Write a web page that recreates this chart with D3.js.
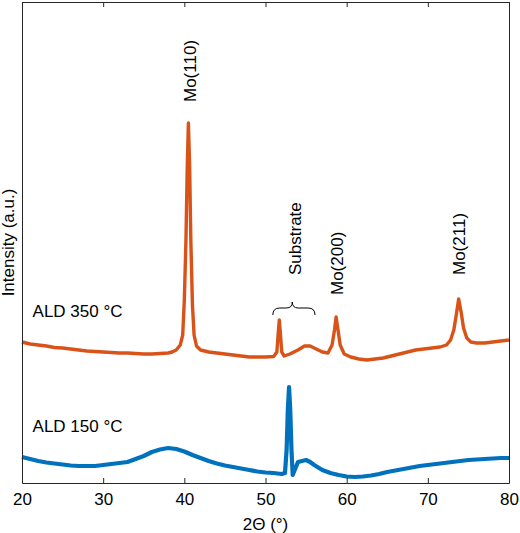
<!DOCTYPE html>
<html>
<head>
<meta charset="utf-8">
<script src="https://cdn.jsdelivr.net/npm/d3@7"></script>
<style>
  body { margin: 0; background: #fff; }
  text { font-family: "Liberation Sans", Arial, Helvetica, sans-serif; }
</style>
</head>
<body>
<div id="chart"></div>
<script>
// [2theta, intensity (a.u.)]
const ald350 = [
  [20, 141], [21, 139], [22, 138], [23, 137], [24, 135.5], [25, 135], [26, 134], [27, 133],
  [28, 132], [29, 131.5], [30, 131], [31, 130.5], [32, 130], [33, 130], [34, 129.5], [35, 129],
  [36, 129], [37, 129.5], [38, 130], [38.5, 131], [39, 133], [39.5, 138], [39.8, 148],
  [40.0, 183], [40.2, 243], [40.35, 313], [40.5, 360], [40.65, 318], [40.8, 243], [41.0, 178],
  [41.2, 148], [41.5, 137], [42, 133], [43, 131], [44, 130], [45, 129], [46, 128], [47, 127],
  [48, 126], [49, 126], [50, 126], [51, 126.5], [51.4, 131], [51.55, 148], [51.7, 163],
  [51.85, 148], [52.0, 131], [52.3, 127], [53, 129], [54, 133], [54.8, 137], [55.5, 137],
  [56, 135], [57, 131], [57.7, 130], [58.2, 138], [58.5, 153], [58.7, 166], [58.9, 155],
  [59.2, 138], [59.7, 129], [60.5, 126], [61.5, 124], [62.5, 123], [63.5, 124], [64.5, 125],
  [65.5, 127], [66.5, 129], [67.5, 131], [68.5, 133], [69.5, 134], [70.5, 135], [71.5, 136],
  [72.3, 138], [72.8, 143], [73.2, 153], [73.5, 168], [73.8, 184], [74.1, 171], [74.4, 155],
  [74.8, 145], [75.3, 141], [76, 140], [77, 140], [78, 141], [79, 142], [80, 143]
];

const ald150 = [
  [20, 26], [21, 24], [22, 22], [23, 20.5], [24, 19.5], [25, 18.5], [26, 17.5], [27, 17],
  [28, 17], [29, 17], [30, 18], [31, 19], [32, 20], [33, 21], [34, 24], [35, 27],
  [36, 31], [37, 33.5], [38, 35], [39, 34], [40, 31.5], [41, 28], [42, 25], [43, 22],
  [44, 19.5], [45, 17.5], [46, 16], [47, 14.5], [48, 13], [49, 11.5], [50, 10.5],
  [51, 10], [52, 9], [52.4, 10], [52.6, 33], [52.75, 73], [52.9, 96], [53.05, 73],
  [53.2, 33], [53.35, 8], [53.7, 15], [54.0, 21], [54.5, 22], [55.0, 23], [55.5, 21],
  [56, 18], [57, 13], [58, 10], [59, 8], [60, 6.5], [61, 6], [62, 6.5], [63, 7.5],
  [64, 9], [65, 11], [66, 12.5], [67, 14], [68, 15.5], [69, 17], [70, 18], [71, 19],
  [72, 20], [73, 21], [74, 22], [75, 23], [76, 23.5], [77, 24], [78, 24.5], [79, 25],
  [80, 25]
];

const xTicks = [20, 30, 40, 50, 60, 70, 80];

// peak labels: text, 2theta, intensity where the rotated text starts
const peakLabels = [
  { text: "Mo(110)", x: 40.5, y: 381, dx: 8 },
  { text: "Substrate", x: 53.3, y: 208, dx: 8.5 },
  { text: "Mo(200)", x: 58.7, y: 188, dx: 7 },
  { text: "Mo(211)", x: 73.8, y: 208, dx: 6 }
];

// substrate brace: start, middle, end (2theta), level and tip (intensity)
const brace = { x0: 50.9, xm: 53.3, x1: 56.1, ends: 168, level: 175, tip: 181 };

const sampleLabels = [
  { text: "ALD 350 °C", x: 21.3, y: 166 },
  { text: "ALD 150 °C", x: 21.3, y: 51 }
];

const width = 520;
const height = 533;
const margin = { top: 2, right: 11, bottom: 50, left: 22 };

const x = d3.scaleLinear().domain([20, 80]).range([margin.left, width - margin.right]);
const y = d3.scaleLinear().domain([0, 481]).range([height - margin.bottom, margin.top]);

const svg = d3.select("#chart")
  .append("svg")
  .attr("width", width)
  .attr("height", height);

const line = d3.line()
  .x((d) => x(d[0]))
  .y((d) => y(d[1]));

svg.append("path")
  .datum(ald350)
  .attr("fill", "none")
  .attr("stroke", "#D95319")
  .attr("stroke-width", 3.4)
  .attr("stroke-linejoin", "round")
  .attr("d", line);

svg.append("path")
  .datum(ald150)
  .attr("fill", "none")
  .attr("stroke", "#0072BD")
  .attr("stroke-width", 4.2)
  .attr("stroke-linejoin", "round")
  .attr("d", line);

// axes box
const axisColor = "#262626";

const axBottom = svg.append("g")
  .attr("transform", "translate(0," + y(0) + ")")
  .call(d3.axisBottom(x).tickValues(xTicks).tickSizeInner(-5).tickSizeOuter(0).tickPadding(10));

const axTop = svg.append("g")
  .attr("transform", "translate(0," + y(481) + ")")
  .call(d3.axisTop(x).tickValues(xTicks).tickSizeInner(-5).tickSizeOuter(0).tickFormat(""));

const axLeft = svg.append("g")
  .attr("transform", "translate(" + x(20) + ",0)")
  .call(d3.axisLeft(y).tickValues([]).tickSizeOuter(0));

const axRight = svg.append("g")
  .attr("transform", "translate(" + x(80) + ",0)")
  .call(d3.axisRight(y).tickValues([]).tickSizeOuter(0));

[axBottom, axTop, axLeft, axRight].forEach((g) => {
  g.select(".domain").attr("stroke", axisColor).attr("stroke-width", 1);
  g.selectAll(".tick line").attr("stroke", axisColor).attr("stroke-width", 1);
});

axBottom.selectAll(".tick text")
  .attr("font-size", 17)
  .attr("font-family", "Liberation Sans, Arial, sans-serif")
  .attr("fill", "#000");

// axis titles
svg.append("text")
  .attr("x", x(50))
  .attr("y", 530)
  .attr("text-anchor", "middle")
  .attr("font-size", 17)
  .text("2Θ (°)");

svg.append("text")
  .attr("transform", "translate(13.5," + (y(0) + y(481)) / 2 + ") rotate(-90)")
  .attr("text-anchor", "middle")
  .attr("font-size", 17)
  .text("Intensity (a.u.)");

// peak annotations
svg.append("g")
  .selectAll("text")
  .data(peakLabels)
  .join("text")
  .attr("transform", (d) => "translate(" + (x(d.x) + d.dx) + "," + y(d.y) + ") rotate(-90)")
  .attr("font-size", 17)
  .text((d) => d.text);

// brace over the substrate peaks
const bp = d3.path();
const bx0 = x(brace.x0), bxm = x(brace.xm), bx1 = x(brace.x1);
const by0 = y(brace.ends), byl = y(brace.level), byt = y(brace.tip);
bp.moveTo(bx0, by0);
bp.quadraticCurveTo(bx0, byl, bx0 + 7, byl);
bp.lineTo(bxm - 6, byl);
bp.quadraticCurveTo(bxm, byl, bxm, byt);
bp.quadraticCurveTo(bxm, byl, bxm + 6, byl);
bp.lineTo(bx1 - 7, byl);
bp.quadraticCurveTo(bx1, byl, bx1, by0);

svg.append("path")
  .attr("d", bp.toString())
  .attr("fill", "none")
  .attr("stroke", "#000")
  .attr("stroke-width", 1);

// sample labels
svg.append("g")
  .selectAll("text")
  .data(sampleLabels)
  .join("text")
  .attr("x", (d) => x(d.x))
  .attr("y", (d) => y(d.y))
  .attr("font-size", 17)
  .text((d) => d.text);
</script>
</body>
</html>
